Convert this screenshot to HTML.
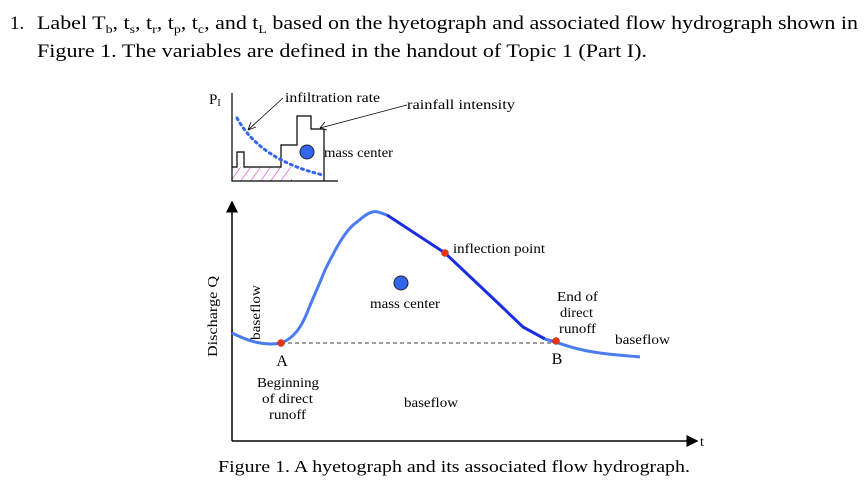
<!DOCTYPE html>
<html><head><meta charset="utf-8"><style>
html,body{margin:0;padding:0;background:#fff;}
svg{display:block;font-family:"Liberation Serif",serif;}
</style></head><body>
<svg width="868" height="490" viewBox="0 0 868 490" xmlns="http://www.w3.org/2000/svg">
<defs>
<marker id="ar" markerWidth="8" markerHeight="8" refX="7" refY="4" orient="auto"><path d="M0,0 L8,4 L0,8 z" fill="#000"/></marker>
<pattern id="hatch" width="10" height="14" patternUnits="userSpaceOnUse"><path d="M0,14 L10,0" stroke="#e070e0" stroke-width="0.8"/></pattern>
</defs>
<text x="10" y="29" font-size="19">1.</text>
<text x="37" y="29" font-size="19" textLength="821" lengthAdjust="spacingAndGlyphs">Label T<tspan font-size="12" dy="4">b</tspan><tspan dy="-4">, t</tspan><tspan font-size="12" dy="4">s</tspan><tspan dy="-4">, t</tspan><tspan font-size="12" dy="4">r</tspan><tspan dy="-4">, t</tspan><tspan font-size="12" dy="4">p</tspan><tspan dy="-4">, t</tspan><tspan font-size="12" dy="4">c</tspan><tspan dy="-4">, and t</tspan><tspan font-size="12" dy="4">L</tspan><tspan dy="-4"> based on the hyetograph and associated flow hydrograph shown in</tspan></text>
<text x="37" y="57" font-size="19" textLength="610" lengthAdjust="spacingAndGlyphs">Figure 1. The variables are defined in the handout of Topic 1 (Part I).</text>

<!-- hyetograph -->
<rect x="232" y="167" width="60" height="14" fill="url(#hatch)"/>
<path d="M232,93 V181 H338" fill="none" stroke="#000" stroke-width="1.2"/>
<path d="M232,167 H237 V152 H244 V167 H281 V145 H297 V116 H311 V129 H324 V181" fill="none" stroke="#000" stroke-width="1.2"/>
<path d="M237,118 Q260,160 323,175" fill="none" stroke="#3366ee" stroke-width="3" stroke-dasharray="2,4" stroke-linecap="round"/>
<circle cx="307" cy="152" r="7" fill="#3366ee" stroke="#223" stroke-width="1"/>
<text x="209" y="104" font-size="15">P<tspan font-size="10" dy="2">I</tspan></text>
<text x="285" y="102" font-size="14" textLength="95" lengthAdjust="spacingAndGlyphs">infiltration rate</text>
<text x="407" y="109" font-size="14" textLength="108" lengthAdjust="spacingAndGlyphs">rainfall intensity</text>
<text x="324" y="157" font-size="14" textLength="69" lengthAdjust="spacingAndGlyphs">mass center</text>
<path d="M283,98 L248,130 M248,130 l3,-8 M248,130 l8,-3" stroke="#000" fill="none" stroke-width="0.8"/>
<path d="M407,105 L320,128 M320,128 l5,-6 M320,128 l7,2" stroke="#000" fill="none" stroke-width="0.8"/>

<!-- hydrograph axes -->
<line x1="232" y1="441" x2="232" y2="202" stroke="#000" stroke-width="1.5" marker-end="url(#ar)"/>
<line x1="232" y1="441" x2="697" y2="441" stroke="#000" stroke-width="1.5" marker-end="url(#ar)"/>
<text x="700" y="446" font-size="14">t</text>
<line x1="281" y1="343" x2="556" y2="343" stroke="#000" stroke-dasharray="4,3" stroke-width="0.8"/>
<path d="M232,333 C250,342 265,346 281,343 C295,338 302,325 307,313 C312,300 317,290 325,270 C335,250 345,230 357,222 C365,215 372,210 378,212 L387,215" fill="none" stroke="#4a7cf0" stroke-width="3"/>
<path d="M387,215 L445,253 L500,305 L523,327 L545,339" fill="none" stroke="#1a2ee0" stroke-width="3"/>
<path d="M545,339 C560,343 575,350 600,353 C615,355 630,356 640,357" fill="none" stroke="#4a7cf0" stroke-width="3"/>
<circle cx="281" cy="343" r="3.5" fill="#ee3311" stroke="#a22" stroke-width="0.5"/>
<circle cx="556" cy="341" r="3.5" fill="#ee3311" stroke="#a22" stroke-width="0.5"/>
<circle cx="445" cy="253" r="3.5" fill="#ee3311" stroke="#a22" stroke-width="0.5"/>
<circle cx="401" cy="283" r="7" fill="#3366ee" stroke="#223" stroke-width="1"/>
<g font-size="14" lengthAdjust="spacingAndGlyphs">
<text x="453" y="253" textLength="92" lengthAdjust="spacingAndGlyphs">inflection point</text>
<text x="370" y="308" textLength="70" lengthAdjust="spacingAndGlyphs">mass center</text>
<text x="557" y="301" textLength="41" lengthAdjust="spacingAndGlyphs">End of</text>
<text x="560" y="317" textLength="33" lengthAdjust="spacingAndGlyphs">direct</text>
<text x="559" y="333" textLength="37" lengthAdjust="spacingAndGlyphs">runoff</text>
<text x="615" y="344" textLength="55" lengthAdjust="spacingAndGlyphs">baseflow</text>
<text x="257" y="387" textLength="62" lengthAdjust="spacingAndGlyphs">Beginning</text>
<text x="262" y="403" textLength="51" lengthAdjust="spacingAndGlyphs">of direct</text>
<text x="269" y="419" textLength="37" lengthAdjust="spacingAndGlyphs">runoff</text>
<text x="404" y="407" textLength="54" lengthAdjust="spacingAndGlyphs">baseflow</text>
<text transform="translate(260,340) rotate(-90)" textLength="55" lengthAdjust="spacingAndGlyphs">baseflow</text>
<text transform="translate(217,357) rotate(-90)" textLength="81" lengthAdjust="spacingAndGlyphs">Discharge Q</text>
</g>
<text x="282" y="366" font-size="16" text-anchor="middle">A</text>
<text x="557" y="364" font-size="16" text-anchor="middle">B</text>
<text x="218" y="472" font-size="17" textLength="472" lengthAdjust="spacingAndGlyphs">Figure 1. A hyetograph and its associated flow hydrograph.</text>
</svg>
</body></html>
